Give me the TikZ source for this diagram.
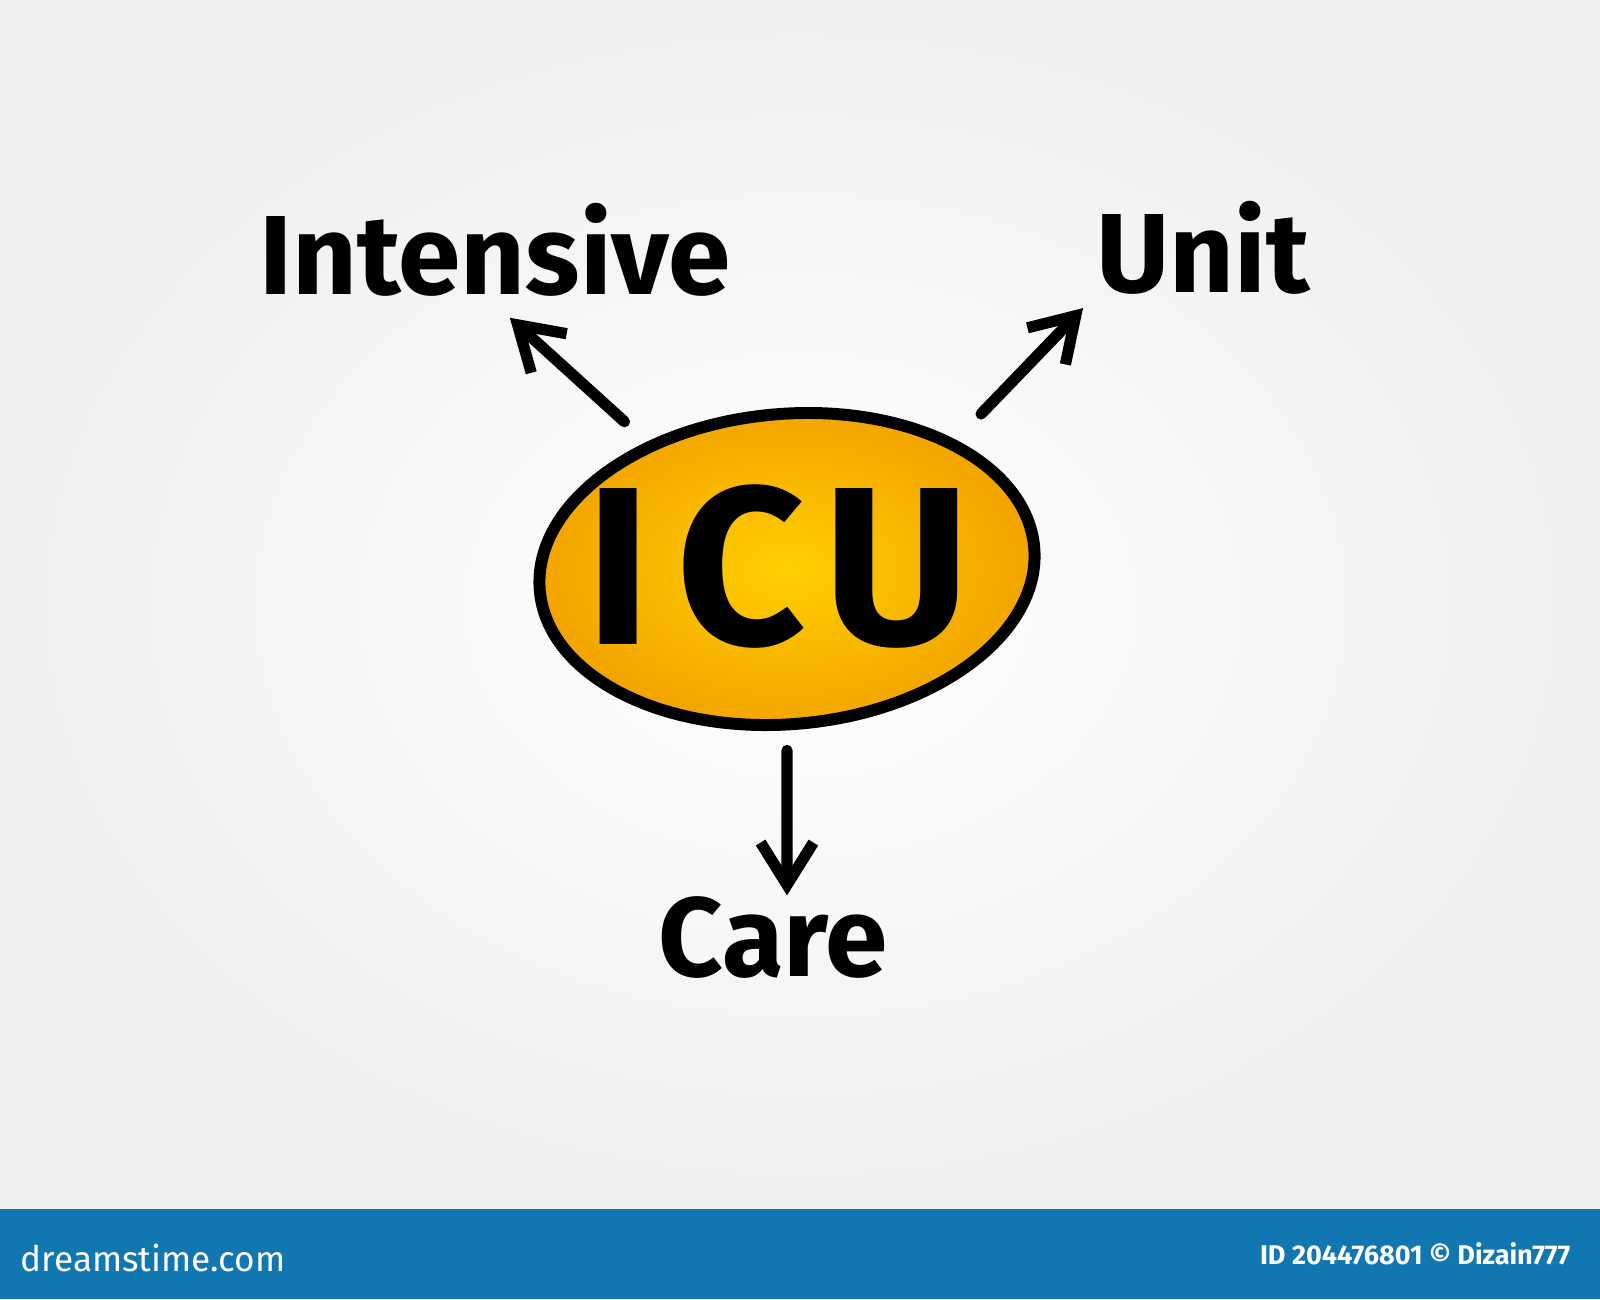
\documentclass[tikz,border=0pt]{standalone}
\usepackage{fontspec}
\setmainfont{Fira Sans}
\usetikzlibrary{shapes.geometric, arrows.meta}
\definecolor{bluebar}{HTML}{1077B0}
\definecolor{icuin}{HTML}{FFD000}
\definecolor{icuout}{HTML}{F2A200}
\tikzset{word/.style={font=\fontsize{32}{38}\selectfont\bfseries, inner sep=2pt},
  arrow/.style={-{Straight Barb[length=12pt, width=15pt]}, line width=3.2pt, line cap=round, line join=round},
  bartext/.style={text=white, inner sep=0pt}}
\def\barline{1209}

\begin{document}
\begin{tikzpicture}[x=0.01cm, y=-0.01cm]
  \useasboundingbox (0,0) rectangle (1600,1299);
  \shade[inner color=white, outer color=black!6] (0,0) rectangle (1600,\barline);
  \fill[bluebar] (0,\barline) rectangle (1600,1299);

  \node[ellipse, draw, line width=3.4pt, minimum width=4.96cm, minimum height=3.1cm,
    rotate=5, shade, inner color=icuin, outer color=icuout] (icu) at (787,569) {};
  \node[font=\fontsize{64}{72}\selectfont\bfseries, inner sep=0pt] (icutext) at (778,566)
    {I\kern0.11em C\kern0.08em U};

  \node[word] (intensive) at (495,250) {Intensive};
  \node[word] (unit) at (1203,248) {Unit};
  \node[word] (care) at (773,937) {Care};

  \draw[arrow, shorten <=0.3cm, shorten >=0.2cm] (icu) -- (intensive.south);
  \draw[arrow, shorten <=0.36cm, shorten >=0.08cm] (icu.north east) -- (unit.south west);
  \draw[arrow, shorten <=0.2cm, shorten >=-0.07cm] (icu) -- (icu |- care.north);

  %%% Bar %%%
  \node[bartext, anchor=base west, font=\fontsize{10}{12}\selectfont] (site) at (20,1271) {dreamstime.com};
  \node[bartext, anchor=base east, font=\fontsize{7.7}{9}\selectfont\bfseries] (imgid) at (1571,1264) {ID 204476801 © Dizain777};
\end{tikzpicture}
\end{document}
